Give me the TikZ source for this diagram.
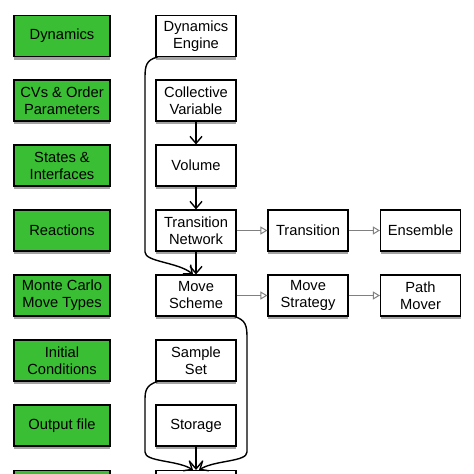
\documentclass[tikz,border=0pt]{standalone}
\usepackage{fontspec}
\setmainfont{Liberation Sans}
\usetikzlibrary{shadows,arrows.meta}
\definecolor{boxgreen}{RGB}{58,190,52}
\tikzset{
  base/.style={draw=black, line width=1.1pt, minimum height=41pt, inner sep=0pt, align=center,
    font=\fontsize{14.7}{17}\selectfont,
    drop shadow={shadow xshift=0pt, shadow yshift=-3pt, opacity=0.45, fill=black!80}},
  gbox/.style={base, fill=boxgreen, minimum width=96pt},
  wbox/.style={base, fill=white, minimum width=80pt},
  blk/.style={line width=1.4pt, -{Straight Barb[length=7pt,width=12pt,line width=1.4pt]}},
  gry/.style={draw=gray, line width=1pt, -{Triangle[open,length=7pt,width=8pt,line width=1pt]}}
}
\begin{document}
\begin{tikzpicture}[x=1pt,y=-1pt]
\useasboundingbox (0,0) rectangle (474,474);
\clip (0,0) rectangle (474,474);
\fill[white] (0,0) rectangle (474,474);
% green column
\node[gbox] (g1) at (62,36) {Dynamics};
\node[gbox] (g2) at (62,100.5) {CVs \& Order\\Parameters};
\node[gbox] (g3) at (62,165.5) {States \&\\Interfaces};
\node[gbox] (g4) at (62,230.5) {Reactions};
\node[gbox] (g5) at (62,295.5) {Monte Carlo\\Move Types};
\node[gbox] (g6) at (62,360.5) {Initial\\Conditions};
\node[gbox] (g7) at (62,425.5) {Output file};
\node[gbox] (g8) at (62,491) {};
% white column
\node[wbox] (de) at (196,36) {Dynamics\\Engine};
\node[wbox] (cv) at (196,100.5) {Collective\\Variable};
\node[wbox] (vol) at (196,165.5) {Volume};
\node[wbox] (tn) at (196,230.5) {Transition\\Network};
\node[wbox] (ms) at (196,295.5) {Move\\Scheme};
\node[wbox] (ss) at (196,360.5) {Sample\\Set};
\node[wbox] (st) at (196,425.5) {Storage};
\node[wbox] (bot) at (196,491) {};
% right columns
\node[wbox] (tr) at (308,230.5) {Transition};
\node[wbox] (en) at (420.5,230.5) {Ensemble};
\node[wbox] (mst) at (308,295.5) {Move\\Strategy};
\node[wbox] (pm) at (420.5,295.5) {Path\\Mover};
% straight arrows
\draw[blk] (cv.south) -- (vol.north);
\draw[blk] (vol.south) -- (tn.north);
\draw[blk] (tn.south) -- (ms.north);
\draw[blk] (st.south) -- (bot.north);
% gray arrows
\draw[gry] (tn.east) -- (tr.west);
\draw[gry] (tr.east) -- (en.west);
\draw[gry] (ms.east) -- (mst.west);
\draw[gry] (mst.east) -- (pm.west);
% curved arrows
\draw[blk] ([xshift=2pt]de.south west) .. controls (146,60) and (145,66) .. (145,78)
  -- (145,252) .. controls (145,262) and (178,262) .. ([xshift=-3pt]ms.north);
\draw[blk] ([xshift=-2pt]ms.south east) .. controls (246,320) and (247,326) .. (247,338)
  -- (247,452) .. controls (247,462) and (215,460) .. ([xshift=3pt]bot.north);
\draw[blk] ([xshift=2pt]ss.south west) .. controls (146,385) and (145,391) .. (145,400)
  -- (145,452) .. controls (145,462) and (177,460) .. ([xshift=-3pt]bot.north);
\end{tikzpicture}
\end{document}
